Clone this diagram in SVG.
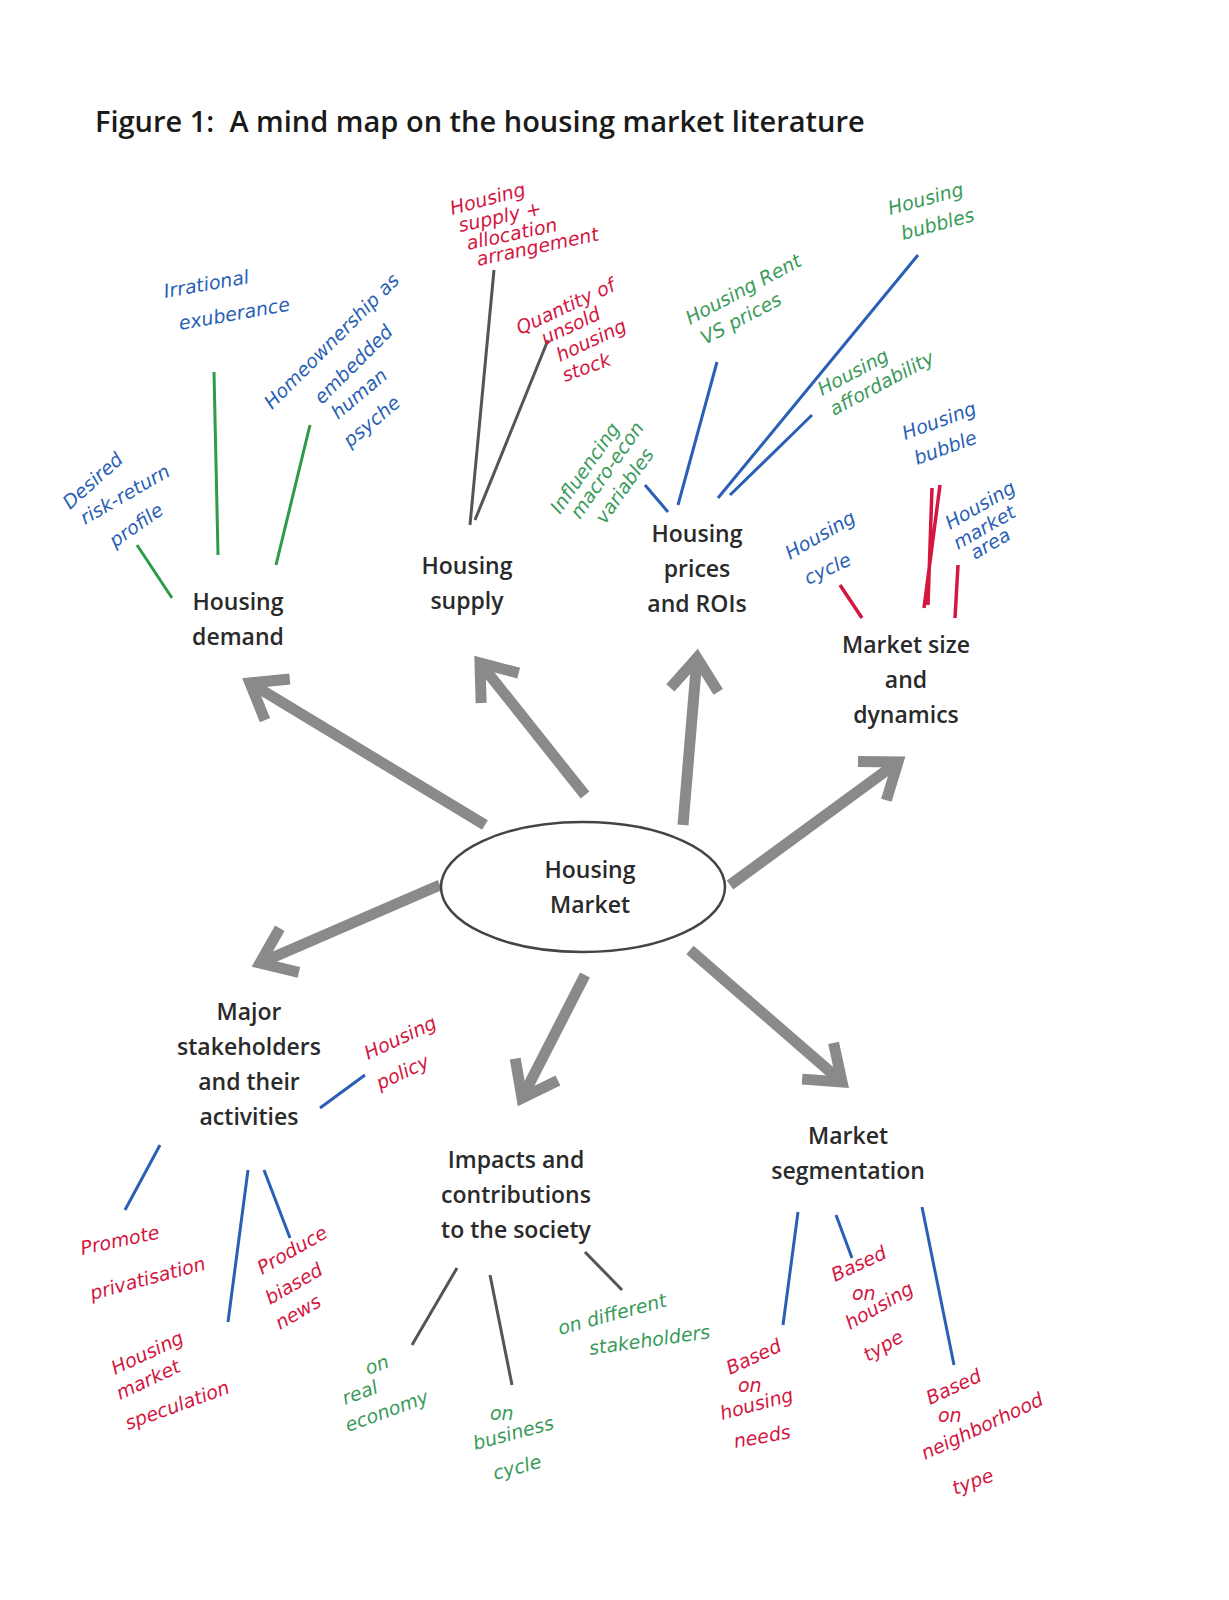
<svg xmlns="http://www.w3.org/2000/svg" width="1229" height="1600" viewBox="0 0 1229 1600">
<style>
.lbl{font-family:"Open Sans","Liberation Sans",sans-serif;font-weight:600;font-size:23px;fill:#2a2a2a;text-anchor:middle}
.t{font-family:"Open Sans","Liberation Sans",sans-serif;font-weight:600;font-size:29px;fill:#1a1a1a}
.h{font-family:"DejaVu Sans","Liberation Sans",sans-serif;font-style:italic;font-size:19px}
.b{fill:#2a5fb5}.g{fill:#3a9a5a}.r{fill:#d3173f}
.sb{stroke:#2a5fb5;stroke-width:3;fill:none}.sg{stroke:#2f9a4a;stroke-width:3;fill:none}.sr{stroke:#d3173f;stroke-width:3.5;fill:none}.sk{stroke:#555;stroke-width:3;fill:none}
.ar{stroke:#8a8a8a;stroke-width:11;fill:none;marker-end:url(#hd)}
</style>
<defs><marker id="hd" markerUnits="userSpaceOnUse" viewBox="-40 -30 50 60" refX="0" refY="0" markerWidth="50" markerHeight="60" orient="auto"><path d="M-32,-24 L0,0 L-32,24" stroke="#8a8a8a" stroke-width="11" fill="none"/></marker></defs>
<rect width="1229" height="1600" fill="#fff"/>
<text class="t" x="95" y="132" xml:space="preserve">Figure 1:  A mind map on the housing market literature</text>
<g id="connectors">
<line class="ar" x1="485" y1="825" x2="250" y2="683"/>
<line class="ar" x1="585" y1="795" x2="480" y2="663"/>
<line class="ar" x1="683" y1="825" x2="697" y2="658"/>
<line class="ar" x1="730" y1="885" x2="898" y2="762"/>
<line class="ar" x1="440" y1="885" x2="260" y2="963"/>
<line class="ar" x1="585" y1="975" x2="522" y2="1098"/>
<line class="ar" x1="690" y1="950" x2="842" y2="1082"/>
</g>
<g id="center"><ellipse cx="583" cy="887" rx="142" ry="65" fill="#fff" stroke="#444" stroke-width="2.5"/><text class="lbl" x="590" y="878">Housing</text><text class="lbl" x="590" y="913">Market</text></g>
<g id="demand"><text class="lbl" x="238" y="610">Housing</text><text class="lbl" x="238" y="645">demand</text>
<path class="sg" d="M172,598 L137,545 M218,555 L214,372 M276,565 L310,425"/>
<text class="h b" transform="translate(70,510) rotate(-42)">Desired</text><text class="h b" transform="translate(85,525) rotate(-30)">risk-return</text><text class="h b" transform="translate(115,548) rotate(-35)">profile</text>
<text class="h b" x="165" y="298" transform="rotate(-10 165 298)">Irrational</text><text class="h b" x="180" y="330" transform="rotate(-10 180 330)">exuberance</text>
<text class="h b" transform="translate(272,410) rotate(-45)">Homeownership as</text><text class="h b" transform="translate(322,405) rotate(-45)">embedded</text><text class="h b" transform="translate(338,420) rotate(-40)">human</text><text class="h b" transform="translate(350,448) rotate(-40)">psyche</text></g>
<g id="supply"><text class="lbl" x="467" y="574">Housing</text><text class="lbl" x="467" y="609">supply</text>
<path class="sk" d="M470,525 L494,270 M475,520 L548,340"/>
<text class="h r" x="452" y="215" transform="rotate(-15 452 215)">Housing</text><text class="h r" x="460" y="232" transform="rotate(-12 460 232)">supply +</text><text class="h r" x="468" y="250" transform="rotate(-12 468 250)">allocation</text><text class="h r" x="478" y="266" transform="rotate(-12 478 266)">arrangement</text>
<text class="h r" x="520" y="335" transform="rotate(-25 520 335)">Quantity of</text><text class="h r" x="545" y="345" transform="rotate(-25 545 345)">unsold</text><text class="h r" x="560" y="362" transform="rotate(-25 560 362)">housing</text><text class="h r" x="565" y="382" transform="rotate(-20 565 382)">stock</text></g>
<g id="prices"><text class="lbl" x="697" y="542">Housing</text><text class="lbl" x="697" y="577">prices</text><text class="lbl" x="697" y="612">and ROIs</text>
<path class="sb" d="M668,512 L645,485 M678,505 L717,362 M718,498 L918,255 M730,495 L812,415"/>
<text class="h g" transform="translate(560,515) rotate(-55)">Influencing</text><text class="h g" transform="translate(580,520) rotate(-55)">macro-econ</text><text class="h g" transform="translate(605,525) rotate(-55)">variables</text>
<text class="h g" x="690" y="325" transform="rotate(-28 690 325)">Housing Rent</text><text class="h g" x="705" y="345" transform="rotate(-28 705 345)">VS prices</text>
<text class="h g" x="890" y="215" transform="rotate(-15 890 215)">Housing</text><text class="h g" x="903" y="240" transform="rotate(-15 903 240)">bubbles</text>
<text class="h g" x="822" y="396" transform="rotate(-28 822 396)">Housing</text><text class="h g" x="834" y="416" transform="rotate(-28 834 416)">affordability</text></g>
<g id="size"><text class="lbl" x="906" y="653">Market size</text><text class="lbl" x="906" y="688">and</text><text class="lbl" x="906" y="723">dynamics</text>
<path class="sr" d="M862,618 L840,585 M924,608 L940,485 M928,605 L932,488 M955,618 L958,565"/>
<text class="h b" x="790" y="560" transform="rotate(-30 790 560)">Housing</text><text class="h b" x="808" y="585" transform="rotate(-25 808 585)">cycle</text>
<text class="h b" x="905" y="440" transform="rotate(-20 905 440)">Housing</text><text class="h b" x="917" y="465" transform="rotate(-20 917 465)">bubble</text>
<text class="h b" x="950" y="530" transform="rotate(-30 950 530)">Housing</text><text class="h b" x="958" y="550" transform="rotate(-30 958 550)">market</text><text class="h b" x="975" y="560" transform="rotate(-30 975 560)">area</text></g>
<g id="stakeholders"><text class="lbl" x="249" y="1020">Major</text><text class="lbl" x="249" y="1055">stakeholders</text><text class="lbl" x="249" y="1090">and their</text><text class="lbl" x="249" y="1125">activities</text>
<path class="sb" d="M320,1108 L365,1075 M160,1145 L125,1210 M248,1170 L228,1322 M264,1170 L290,1238"/>
<text class="h r" x="368" y="1060" transform="rotate(-25 368 1060)">Housing</text><text class="h r" x="380" y="1090" transform="rotate(-25 380 1090)">policy</text>
<text class="h r" x="82" y="1255" transform="rotate(-12 82 1255)">Promote</text><text class="h r" x="92" y="1300" transform="rotate(-15 92 1300)">privatisation</text>
<text class="h r" x="262" y="1275" transform="rotate(-30 262 1275)">Produce</text><text class="h r" x="270" y="1305" transform="rotate(-30 270 1305)">biased</text><text class="h r" x="280" y="1330" transform="rotate(-30 280 1330)">news</text>
<text class="h r" x="115" y="1375" transform="rotate(-25 115 1375)">Housing</text><text class="h r" x="120" y="1400" transform="rotate(-25 120 1400)">market</text><text class="h r" x="128" y="1430" transform="rotate(-20 128 1430)">speculation</text></g>
<g id="impacts"><text class="lbl" x="516" y="1168">Impacts and</text><text class="lbl" x="516" y="1203">contributions</text><text class="lbl" x="516" y="1238">to the society</text>
<path class="sk" d="M457,1268 L412,1345 M490,1275 L512,1385 M585,1252 L622,1290"/>
<text class="h g" x="368" y="1375" transform="rotate(-20 368 1375)">on</text><text class="h g" x="345" y="1405" transform="rotate(-20 345 1405)">real</text><text class="h g" x="348" y="1432" transform="rotate(-20 348 1432)">economy</text>
<text class="h g" x="490" y="1420">on</text><text class="h g" x="475" y="1450" transform="rotate(-15 475 1450)">business</text><text class="h g" x="495" y="1480" transform="rotate(-15 495 1480)">cycle</text>
<text class="h g" x="560" y="1335" transform="rotate(-15 560 1335)">on different</text><text class="h g" x="590" y="1355" transform="rotate(-8 590 1355)">stakeholders</text></g>
<g id="segmentation"><text class="lbl" x="848" y="1144">Market</text><text class="lbl" x="848" y="1179">segmentation</text>
<path class="sb" d="M798,1212 L783,1325 M836,1215 L852,1258 M922,1207 L954,1365"/>
<text class="h r" x="730" y="1375" transform="rotate(-25 730 1375)">Based</text><text class="h r" x="738" y="1392">on</text><text class="h r" x="722" y="1420" transform="rotate(-15 722 1420)">housing</text><text class="h r" x="735" y="1448" transform="rotate(-10 735 1448)">needs</text>
<text class="h r" x="835" y="1282" transform="rotate(-25 835 1282)">Based</text><text class="h r" x="852" y="1300">on</text><text class="h r" x="850" y="1330" transform="rotate(-30 850 1330)">housing</text><text class="h r" x="868" y="1362" transform="rotate(-30 868 1362)">type</text>
<text class="h r" x="930" y="1405" transform="rotate(-25 930 1405)">Based</text><text class="h r" x="938" y="1422">on</text><text class="h r" x="925" y="1460" transform="rotate(-25 925 1460)">neighborhood</text><text class="h r" x="955" y="1495" transform="rotate(-20 955 1495)">type</text></g>
</svg>
